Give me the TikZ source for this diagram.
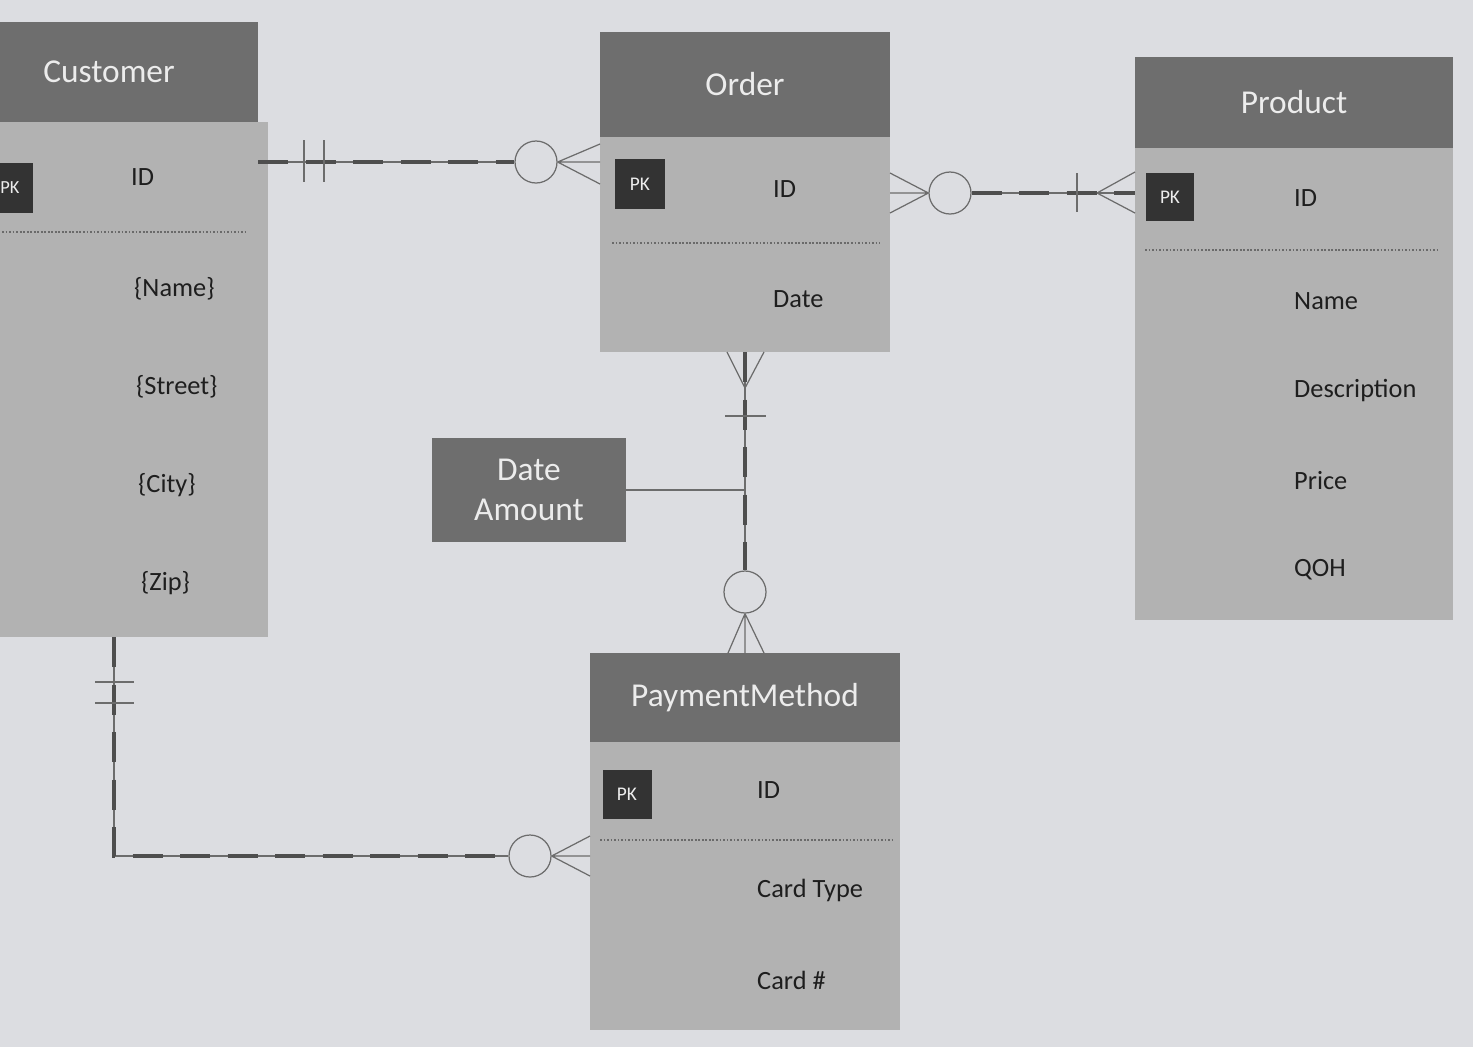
\documentclass[tikz,border=0pt]{standalone}
\usepackage{fontspec}
\setmainfont{Carlito}
\definecolor{paper}{HTML}{DCDDE1}
\definecolor{headc}{HTML}{6E6E6E}
\definecolor{headtxt}{HTML}{ECECEC}
\definecolor{bodyc}{HTML}{B2B2B2}
\definecolor{pkc}{HTML}{333333}
\definecolor{txtc}{HTML}{1E1E1E}
\definecolor{linec}{HTML}{6C6C6C}
\definecolor{dashc}{HTML}{4E4E4E}
\definecolor{sepc}{HTML}{6A6A6A}

\begin{document}
\begin{tikzpicture}[x=0.2mm,y=-0.2mm,
  head/.style={fill=headc,text=headtxt,anchor=north west,inner sep=0pt,outer sep=0pt,font=\fontsize{19}{23}\selectfont},
  body/.style={fill=bodyc,anchor=north west,inner sep=0pt,outer sep=0pt},
  attr/.style={anchor=west,text=txtc,font=\fontsize{15}{18}\selectfont},
  pk/.style={fill=pkc,text=headtxt,inner sep=0pt,minimum size=10mm,font=\fontsize{11}{13}\selectfont},
  card/.style={circle,draw=linec,fill=paper,line width=0.7pt,inner sep=0pt,minimum size=8.4mm},
  thinl/.style={draw=linec,line width=0.7pt},
  rel/.style={thinl,postaction={draw=dashc,line width=2pt,dash pattern=on 6mm off 3.5mm}},
  sep/.style={draw=sepc,line width=0.6pt,dash pattern=on 1pt off 1pt}]

     \useasboundingbox[fill=paper] (0,0) rectangle (1473,1047);

     % entities
     \node[head,minimum width=59.6mm,minimum height=20mm] (custH) at (-40,22) {Customer};
     \node[body,minimum width=61.6mm,minimum height=103mm] (cust) at (-40,122) {};
     \node[head,minimum width=58mm,minimum height=21mm] (ordH) at (600,32) {Order};
     \node[body,minimum width=58mm,minimum height=43mm] (ord) at (600,137) {};
     \node[head,minimum width=63.6mm,minimum height=18.2mm] (prodH) at (1135,57) {Product};
     \node[body,minimum width=63.6mm,minimum height=94.4mm] (prod) at (1135,148) {};
     \node[head,minimum width=62mm,minimum height=17.8mm] (payH) at (590,653) {PaymentMethod};
     \node[body,minimum width=62mm,minimum height=57.6mm] (pay) at (590,742) {};
     \node[head,minimum width=38.8mm,minimum height=20.8mm,align=center,font=\fontsize{19}{21}\selectfont] (datebox) at (432,438) {Date\\[2pt]Amount};

     % keys
     \node[pk,minimum width=9mm,font=\fontsize{10.5}{12}\selectfont] (custpk) at (10,188) {PK};
     \node[pk] (ordpk) at (640,184) {PK};
     \node[pk,minimum size=9.6mm] (prodpk) at (1170,197) {PK};
     \node[pk,minimum size=9.8mm] (paypk) at (627,794) {PK};

     \draw[sep] (-40,232) -- (245,232);
     \draw[sep] (612,243) -- (880,243);
     \draw[sep] (1145,250) -- (1440,250);
     \draw[sep] (600,840) -- (892,840);

     % attributes
     \path (125,177) node[attr] (custid) {ID};
     \path (128,289) node[attr] (custname) {\{Name\}};
     \path (130,387) node[attr] (custstreet) {\{Street\}};
     \path (132,485) node[attr] (custcity) {\{City\}};
     \path (135,583) node[attr] (custzip) {\{Zip\}};

     \path (767,189) node[attr] (ordid) {ID};
     \path (767,299) node[attr] (orddate) {Date};

     \path (1288,198) node[attr] (prodid) {ID};
     \path (1288,301) node[attr] (prodname) {Name};
     \path (1288,390) node[attr] (proddesc) {Description};
     \path (1288,481) node[attr] (prodprice) {Price};
     \path (1288,570) node[attr] (prodqoh) {QOH};

     \path (751,790) node[attr] (payid) {ID};
     \path (751,890) node[attr] (paytype) {Card Type};
     \path (751,980) node[attr] (paynum) {Card \#};

     % Customer -- Order
     \node[card] (o1) at (536,162) {};
     \draw[rel] (custH.east |- o1) -- (o1);
     \draw[thinl] (304,140) -- (304,182) (324,140) -- (324,182);
     \draw[thinl] (o1.east) -- (ord.west |- o1) (o1.east) -- (600,144) (o1.east) -- (600,184);

     % Order -- Product
     \node[card] (o2) at (950,193) {};
     \draw[thinl] (o2.west) -- (ord.east |- o2) (o2.west) -- (890,173) (o2.west) -- (890,213);
     \draw[rel] (o2) -- (prod.west |- o2);
     \draw[thinl] (1077,173) -- (1077,212);
     \draw[thinl] (1097,193) -- (1135,172) (1097,193) -- (1135,213);

     % Order -- PaymentMethod
     \node[card] (o3) at (745,592) {};
     \draw[rel] (ord.south -| o3) -- (o3);
     \draw[thinl] (745,388) -- (727,352) (745,388) -- (764,352);
     \draw[thinl] (725,416) -- (766,416);
     \draw[thinl] (o3.south) -- (payH.north -| o3) (o3.south) -- (728,653) (o3.south) -- (764,653);
     \draw[thinl] (datebox.east) -- (datebox.east -| o3);

     % Customer -- PaymentMethod
     \node[card] (o4) at (530,856) {};
     \draw[rel] (cust.south) |- (o4);
     \draw[thinl] (95,682) -- (134,682) (95,703) -- (134,703);
     \draw[thinl] (o4.east) -- (pay.west |- o4) (o4.east) -- (590,836) (o4.east) -- (590,876);

   \end{tikzpicture}
\end{document}
